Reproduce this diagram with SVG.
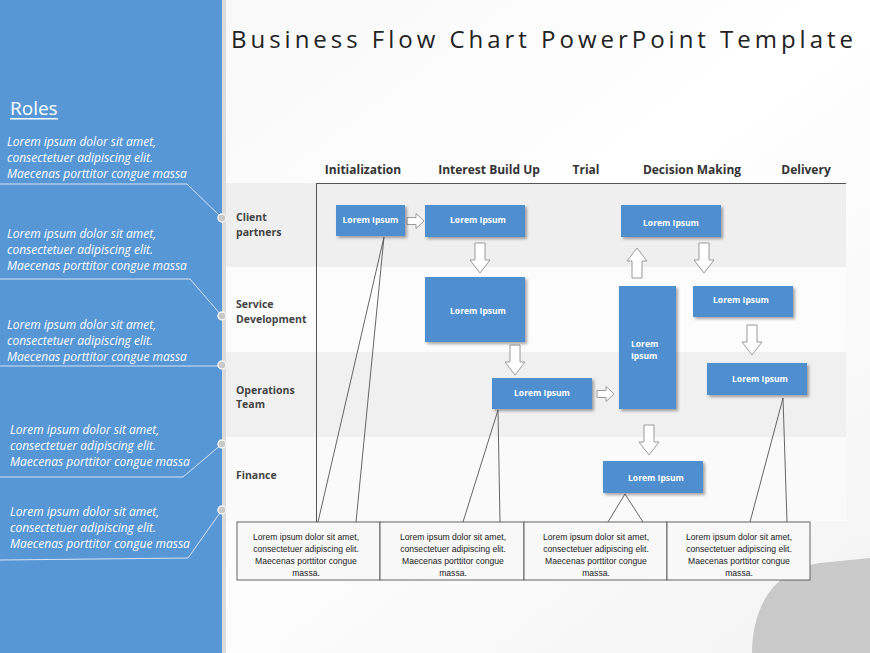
<svg xmlns="http://www.w3.org/2000/svg" width="870" height="653" viewBox="0 0 870 653">
<defs>
<linearGradient id="bg" x1="0" y1="0" x2="1" y2="1">
<stop offset="0" stop-color="#f6f6f6"/><stop offset="0.5" stop-color="#ffffff"/><stop offset="1" stop-color="#f3f3f3"/>
</linearGradient>
<filter id="sh" x="-10%" y="-10%" width="130%" height="140%">
<feDropShadow dx="2" dy="2" stdDeviation="1.5" flood-color="#000" flood-opacity="0.35"/>
</filter>
<path id="dn" d="M-5,0 H5 V17 H10 L0,30 L-10,17 H-5 Z"/>
<path id="rt" d="M0,-3.5 H9 V-7.5 L17,0 L9,7.5 V3.5 H0 Z"/>
</defs>
<style>
.box{fill:#4f8fd0;filter:url(#sh)}
.bt{font-family:"Open Sans","Liberation Sans",sans-serif;font-size:8.5px;font-weight:bold;fill:#fff;text-anchor:middle}
.arr{fill:#fff;stroke:#9a9a9a;stroke-width:1}
.hd{font-family:"Open Sans","Liberation Sans",sans-serif;font-size:12px;font-weight:bold;fill:#333;text-anchor:middle}
.role{font-family:"Open Sans","Liberation Sans",sans-serif;font-size:10.5px;font-weight:bold;fill:#444}
.lt{font-family:"Open Sans","Liberation Sans",sans-serif;font-size:12px;font-style:italic;fill:#fff}
.bx{font-family:"Liberation Sans",Arial,sans-serif;font-size:8.6px;fill:#222;text-anchor:middle}
.cl{fill:none;stroke:#555;stroke-width:0.9}
.wl{fill:none;stroke:#d6e5f5;stroke-width:1}
.dot{fill:#c9c9c9;stroke:#f4f4f4;stroke-width:1.5}
</style>
<rect width="870" height="653" fill="url(#bg)"/>
<path d="M752,653 C752,612 770,570 820,563 L870,558 V653 Z" fill="#c9c9c9"/>
<g id="bands">
<rect x="226" y="183" width="620" height="84" fill="#efefef"/>
<rect x="226" y="267" width="620" height="85" fill="#fcfcfc"/>
<rect x="226" y="352" width="620" height="85" fill="#f0f0f0"/>
<rect x="226" y="437" width="620" height="84" fill="#fafafa"/>
</g>
<rect x="0" y="0" width="222" height="653" fill="#5797d5"/>
<rect x="222" y="0" width="4" height="653" fill="#dcdcdc"/>
<text x="231" y="48" font-family="Open Sans,'Liberation Sans',sans-serif" font-size="24" fill="#222" textLength="622" lengthAdjust="spacing">Business Flow Chart PowerPoint Template</text>
<g id="roles-panel">
<text x="10" y="115" font-family="Open Sans,'Liberation Sans',sans-serif" font-size="19" fill="#fff">Roles</text>
<rect x="10" y="118" width="48" height="1.5" fill="#fff"/>
<text class="lt" x="7" y="146">Lorem ipsum dolor sit amet,</text>
<text class="lt" x="7" y="162">consectetuer adipiscing elit.</text>
<text class="lt" x="7" y="178">Maecenas porttitor congue massa</text>
<text class="lt" x="7" y="238">Lorem ipsum dolor sit amet,</text>
<text class="lt" x="7" y="254">consectetuer adipiscing elit.</text>
<text class="lt" x="7" y="270">Maecenas porttitor congue massa</text>
<text class="lt" x="7" y="329">Lorem ipsum dolor sit amet,</text>
<text class="lt" x="7" y="345">consectetuer adipiscing elit.</text>
<text class="lt" x="7" y="361">Maecenas porttitor congue massa</text>
<text class="lt" x="10" y="434">Lorem ipsum dolor sit amet,</text>
<text class="lt" x="10" y="450">consectetuer adipiscing elit.</text>
<text class="lt" x="10" y="466">Maecenas porttitor congue massa</text>
<text class="lt" x="10" y="516">Lorem ipsum dolor sit amet,</text>
<text class="lt" x="10" y="532">consectetuer adipiscing elit.</text>
<text class="lt" x="10" y="548">Maecenas porttitor congue massa</text>
</g>
<g id="role-connectors">
<polyline class="wl" points="0,184 187,184 222,218"/>
<polyline class="wl" points="0,279 190,279 222,316"/>
<polyline class="wl" points="0,366 222,366"/>
<polyline class="wl" points="0,477 183,477 222,444"/>
<polyline class="wl" points="0,560 188,558 222,510"/>
<circle class="dot" cx="222" cy="218" r="4"/>
<circle class="dot" cx="222" cy="316" r="4"/>
<circle class="dot" cx="222" cy="365" r="4"/>
<circle class="dot" cx="222" cy="444" r="4"/>
<circle class="dot" cx="222" cy="510" r="4"/>
</g>
<g id="headers">
<text class="hd" x="363" y="174">Initialization</text>
<text class="hd" x="489" y="174">Interest Build Up</text>
<text class="hd" x="586" y="174">Trial</text>
<text class="hd" x="692" y="174">Decision Making</text>
<text class="hd" x="806" y="174">Delivery</text>
<text class="role" x="236" y="221">Client</text>
<text class="role" x="236" y="236">partners</text>
<text class="role" x="236" y="308">Service</text>
<text class="role" x="236" y="323">Development</text>
<text class="role" x="236" y="394">Operations</text>
<text class="role" x="236" y="408">Team</text>
<text class="role" x="236" y="479">Finance</text>
</g>
<g id="frame">
<line x1="316" y1="183.5" x2="846" y2="183.5" stroke="#555" stroke-width="1"/>
<line x1="316.5" y1="183" x2="316.5" y2="522" stroke="#555" stroke-width="1"/>
</g>
<g id="connectors">
<use href="#rt" class="arr" x="407" y="221"/>
<use href="#dn" class="arr" x="480" y="243"/>
<use href="#dn" class="arr" x="515" y="345"/>
<use href="#rt" class="arr" x="597" y="394"/>
<use href="#dn" class="arr" transform="translate(637,278) rotate(180)"/>
<use href="#dn" class="arr" x="704" y="243"/>
<use href="#dn" class="arr" x="752" y="325"/>
<use href="#dn" class="arr" x="649" y="425"/>
</g>
<g id="n1"><rect class="box" x="336" y="205" width="69" height="31"/><text class="bt" x="370.5" y="223">Lorem Ipsum</text></g>
<g id="n2"><rect class="box" x="425" y="205" width="100" height="32"/><text class="bt" x="478" y="223">Lorem Ipsum</text></g>
<g id="n3"><rect class="box" x="425" y="277" width="100" height="65"/><text class="bt" x="478" y="314">Lorem Ipsum</text></g>
<g id="n4"><rect class="box" x="492" y="378" width="100" height="31"/><text class="bt" x="542" y="396">Lorem Ipsum</text></g>
<g id="n5"><rect class="box" x="619" y="286" width="57" height="123"/><text class="bt" x="631" y="347" style="text-anchor:start">Lorem</text><text class="bt" x="631" y="359" style="text-anchor:start">Ipsum</text></g>
<g id="n6"><rect class="box" x="621" y="205" width="100" height="32"/><text class="bt" x="671" y="226">Lorem Ipsum</text></g>
<g id="n7"><rect class="box" x="693" y="286" width="100" height="31"/><text class="bt" x="741" y="303">Lorem Ipsum</text></g>
<g id="n8"><rect class="box" x="707" y="363" width="100" height="32"/><text class="bt" x="760" y="382">Lorem Ipsum</text></g>
<g id="n9"><rect class="box" x="603" y="461" width="100" height="32"/><text class="bt" x="656" y="481">Lorem Ipsum</text></g>
<g id="callouts">
<g id="note1"><rect x="237" y="522" width="143" height="58" fill="#f8f8f8" stroke="#555" stroke-width="0.9"/>
<text class="bx" x="306" y="540">Lorem ipsum dolor sit amet,</text><text class="bx" x="306" y="552">consectetuer adipiscing elit.</text><text class="bx" x="306" y="564">Maecenas porttitor congue</text><text class="bx" x="306" y="576">massa.</text></g>
<g id="note2"><rect x="380" y="522" width="144" height="58" fill="#f8f8f8" stroke="#555" stroke-width="0.9"/>
<text class="bx" x="453" y="540">Lorem ipsum dolor sit amet,</text><text class="bx" x="453" y="552">consectetuer adipiscing elit.</text><text class="bx" x="453" y="564">Maecenas porttitor congue</text><text class="bx" x="453" y="576">massa.</text></g>
<g id="note3"><rect x="524" y="522" width="143" height="58" fill="#f8f8f8" stroke="#555" stroke-width="0.9"/>
<text class="bx" x="596" y="540">Lorem ipsum dolor sit amet,</text><text class="bx" x="596" y="552">consectetuer adipiscing elit.</text><text class="bx" x="596" y="564">Maecenas porttitor congue</text><text class="bx" x="596" y="576">massa.</text></g>
<g id="note4"><rect x="667" y="522" width="143" height="58" fill="#f8f8f8" stroke="#555" stroke-width="0.9"/>
<text class="bx" x="739" y="540">Lorem ipsum dolor sit amet,</text><text class="bx" x="739" y="552">consectetuer adipiscing elit.</text><text class="bx" x="739" y="564">Maecenas porttitor congue</text><text class="bx" x="739" y="576">massa.</text></g>
<path class="cl" d="M318,522 L384,237 L356,522"/>
<path class="cl" d="M463,522 L498,410 L500,522"/>
<path class="cl" d="M608,522 L625,494 L643,522"/>
<path class="cl" d="M750,522 L783,398 L787,522"/>
</g>
</svg>
